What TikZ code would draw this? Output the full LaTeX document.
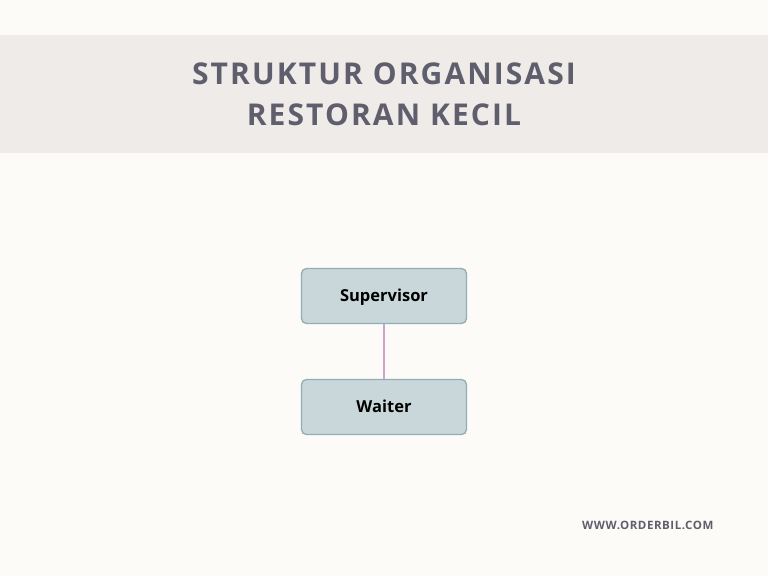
\documentclass[tikz,border=0pt]{standalone}
\usepackage{fontspec}
\setmainfont{Open Sans}
\newfontfamily\titlefont[LetterSpace=7]{Open Sans}
\newfontfamily\sitefont[LetterSpace=5]{Open Sans}
\usepackage{xcolor}
\usetikzlibrary{positioning}
\definecolor{paper}{HTML}{FCFBF7}
\definecolor{band}{HTML}{EFEBE8}
\definecolor{ink}{HTML}{5F5E6D}
\definecolor{boxfill}{HTML}{C9D7DB}
\definecolor{boxline}{HTML}{8FAEB7}
\definecolor{link}{HTML}{D49FCB}

\begin{document}
\begin{tikzpicture}[x=1pt,y=-1pt,
    role/.style = {draw=boxline, line width=1.3pt, fill=boxfill, rounded corners=5pt,
                   minimum width=165pt, minimum height=55pt, inner sep=0pt,
                   text height=11.8pt, text depth=0pt,
                   font=\fontsize{16.5}{20}\selectfont\bfseries},
    link/.style = {draw=link, line width=1.2pt}]
    % background and heading band
    \fill[paper] (0,0) rectangle (768,576);
    \useasboundingbox (0,0) rectangle (768,576);
    \fill[band] (0,35) rectangle (768,153);
    \node[align = center, text=ink, font=\fontsize{30}{41}\titlefont\bfseries](title) at (384,94)
        {STRUKTUR ORGANISASI\\RESTORAN KECIL};

    % chart
    \node[role](supervisor) at (384,296) {Supervisor};
    \node[role](waiter) at (384,407) {Waiter};
    \draw [link] (supervisor.south) -- (waiter.north);

    % footer
    \node[anchor = east, text=ink, font=\fontsize{11.5}{15}\sitefont\bfseries](site) at (717,525) {WWW.ORDERBIL.COM};
\end{tikzpicture}
\end{document}
